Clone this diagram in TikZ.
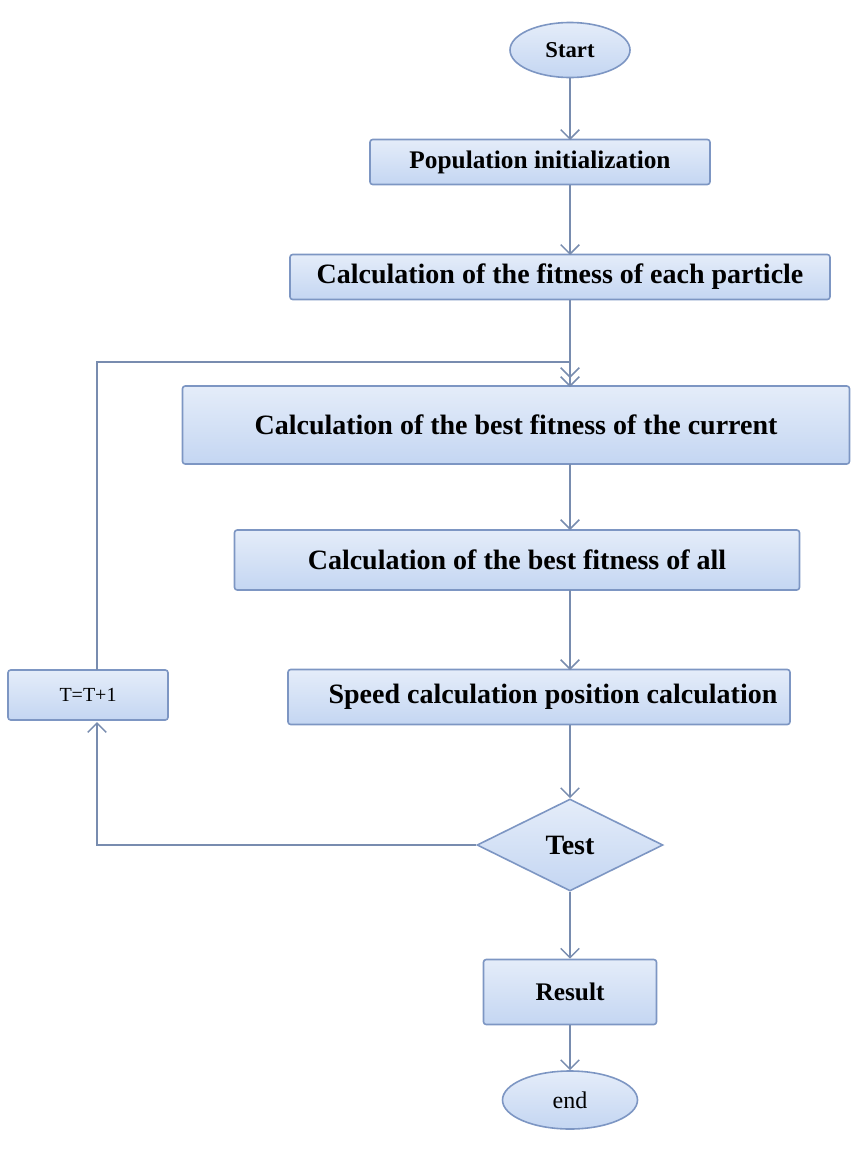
\documentclass[tikz,border=0pt]{standalone}
\usepackage{fontspec}
\setmainfont{Liberation Serif}
\usetikzlibrary{shapes.geometric,arrows.meta}
\definecolor{bd}{RGB}{125,150,195}
\definecolor{fl}{RGB}{196,214,242}
\definecolor{ar}{RGB}{120,140,175}
\begin{document}
\begin{tikzpicture}[x=0.75pt,y=-0.75pt,
 base/.style={draw=bd,line width=1.2pt,top color=fl!45,bottom color=fl,font=\bfseries\fontsize{21}{24}\selectfont,inner sep=0pt},
 rbox/.style={base,rectangle,rounded corners=2pt},
 oval/.style={base,ellipse},
 dia/.style={base,diamond,aspect=2},
 conn/.style={draw=ar,line width=1.1pt,-{Straight Barb[length=7pt,width=14pt]}},
 plain/.style={draw=ar,line width=1.1pt}]
\useasboundingbox (0,0) rectangle (857,1157);
\node[oval,minimum width=120*0.75pt,minimum height=55*0.75pt,font=\bfseries\fontsize{17}{20}\selectfont] (start) at (570,50) {Start};
\node[rbox,minimum width=340*0.75pt,minimum height=45*0.75pt,font=\bfseries\fontsize{19}{22}\selectfont] (pop) at (540,162) {Population initialization};
\node[rbox,minimum width=540*0.75pt,minimum height=45*0.75pt] (fit) at (560,277) {Calculation of the fitness of each particle};
\node[rbox,minimum width=667*0.75pt,minimum height=78*0.75pt] (cur) at (516,425) {Calculation of the best fitness of the current};
\node[rbox,minimum width=565*0.75pt,minimum height=60*0.75pt] (all) at (517,560) {Calculation of the best fitness of all};
\node[rbox,minimum width=502*0.75pt,minimum height=55*0.75pt] (spd) at (539,697) {\quad Speed calculation position calculation};
\node[dia,minimum width=186*0.75pt,minimum height=92*0.75pt] (test) at (570,845) {Test};
\node[rbox,minimum width=173*0.75pt,minimum height=65*0.75pt,font=\bfseries\fontsize{19}{22}\selectfont] (res) at (570,992) {Result};
\node[oval,minimum width=135*0.75pt,minimum height=58*0.75pt,font=\fontsize{18}{21}\selectfont] (end) at (570,1100) {end};
\node[rbox,minimum width=160*0.75pt,minimum height=50*0.75pt,font=\fontsize{15}{18}\selectfont] (inc) at (88,695) {T=T+1};
\coordinate (j) at (570,362);
\draw[conn] (start.south) -- (570,140);
\draw[conn] (570,185) -- (570,255);
\draw[plain] (570,300) -- (j);
\draw[conn] (j) -- (570,387);
\draw[conn] (570,464) -- (570,530);
\draw[conn] (570,590) -- (570,670);
\draw[conn] (570,725) -- (test.north);
\draw[conn] (test.south) -- (res.north);
\draw[conn] (res.south) -- (end.north);
\draw[conn] (test.west) -- (97,845) -- (97,722);
\draw[conn] (97,670) -- (97,362) -- (j) -- (570,378);
\end{tikzpicture}
\end{document}
